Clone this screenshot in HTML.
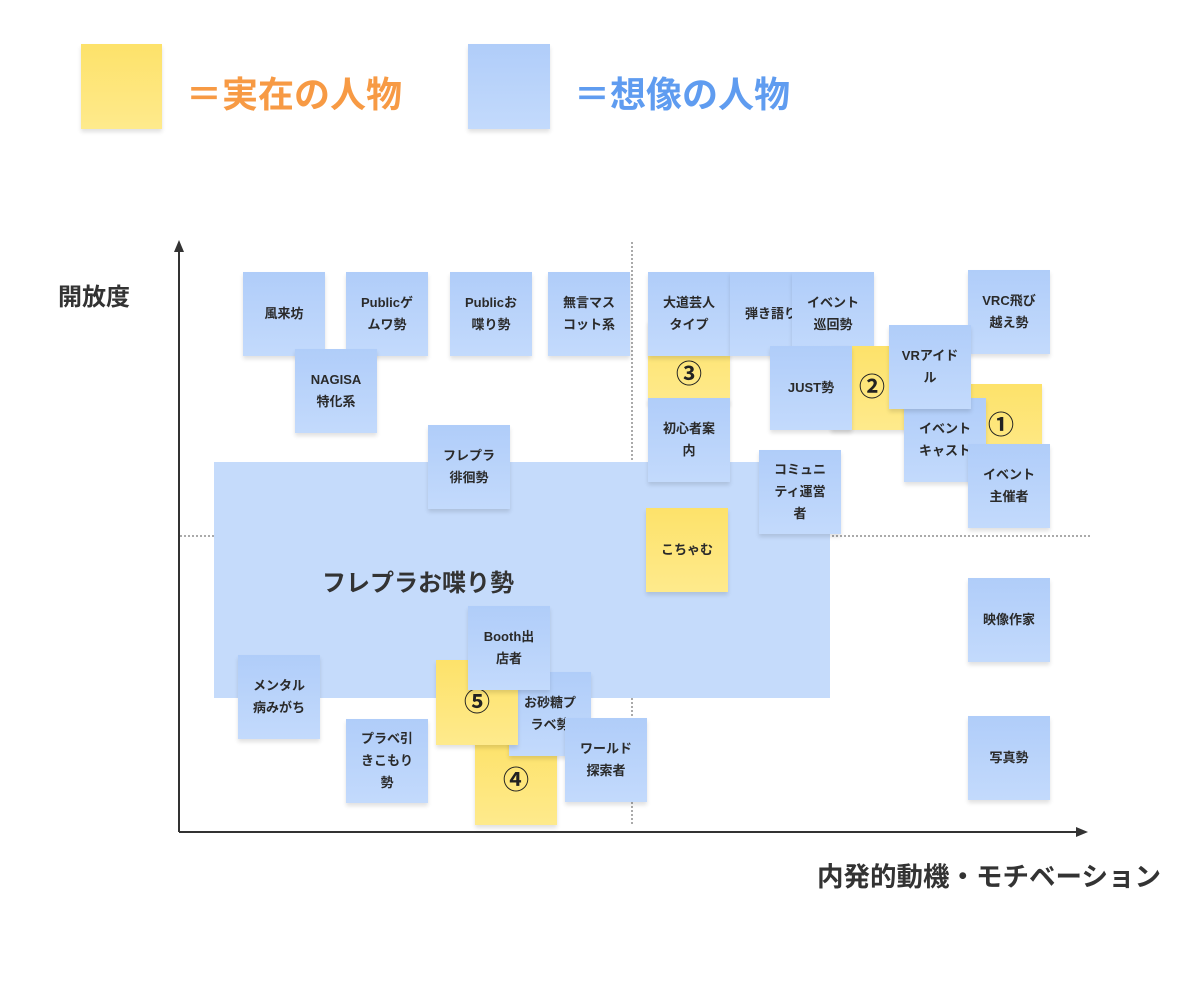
<!DOCTYPE html>
<html><head><meta charset="utf-8"><style>
body{margin:0;width:1200px;height:985px;background:#fff;position:relative;overflow:hidden;font-family:"Liberation Sans","Noto Sans CJK JP",sans-serif;}
.n{position:absolute;width:82px;height:84px;display:flex;align-items:center;justify-content:center;text-align:center;font-size:13px;font-weight:bold;color:#2a2a2a;line-height:22px;box-shadow:0 3px 4px rgba(0,0,0,0.12);box-sizing:border-box;padding:0 4px;}
.b{background:linear-gradient(#b0cdf9,#c3dafc);}
.y{background:linear-gradient(#fde26a,#feea8c);}
.c{position:absolute;font-size:26px;font-weight:bold;line-height:30px;width:30px;height:30px;text-align:center;color:#222;}
.t{position:absolute;font-weight:bold;white-space:nowrap;}
</style></head><body>
<div class="n y" style="left:81px;top:44px;width:81px;height:85px"></div>
<div class="t" style="left:186px;top:66px;font-size:36px;color:#f79a44">＝実在の人物</div>
<div class="n b" style="left:468px;top:44px;width:82px;height:85px"></div>
<div class="t" style="left:574px;top:66px;font-size:36px;color:#5f9cf0">＝想像の人物</div>

<div class="t" style="left:58px;top:277px;font-size:24px;color:#333">開放度</div>
<div class="t" style="left:817px;top:855px;font-size:26.5px;color:#333">内発的動機・モチベーション</div>

<svg style="position:absolute;left:0;top:0" width="1200" height="985">
<line x1="632" y1="242" x2="632" y2="826" stroke="#555" stroke-width="1" stroke-dasharray="2,2"/>
<line x1="180" y1="536" x2="1090" y2="536" stroke="#555" stroke-width="1" stroke-dasharray="2,2"/>
</svg>
<div style="position:absolute;left:214px;top:462px;width:616px;height:236px;background:#c5dbfb"></div>
<div class="t" style="left:322px;top:563px;font-size:24px;color:#333">フレプラお喋り勢</div>
<svg style="position:absolute;left:0;top:0" width="1200" height="985">
<line x1="179" y1="250" x2="179" y2="832" stroke="#333" stroke-width="2"/>
<polygon points="179,240 174,252 184,252" fill="#333"/>
<line x1="179" y1="832" x2="1078" y2="832" stroke="#333" stroke-width="2"/>
<polygon points="1088,832 1076,827 1076,837" fill="#333"/>
</svg>

<div class="n b" style="left:243px;top:272px">風来坊</div>
<div class="n b" style="left:346px;top:272px">Publicゲ<br>ムワ勢</div>
<div class="n b" style="left:450px;top:272px">Publicお<br>喋り勢</div>
<div class="n b" style="left:548px;top:272px">無言マス<br>コット系</div>
<div class="n b" style="left:295px;top:349px">NAGISA<br>特化系</div>
<div class="n b" style="left:428px;top:425px">フレプラ<br>徘徊勢</div>

<div class="n y" style="left:648px;top:320px"><span class="c" style="left:26px;top:39px">③</span></div>
<div class="n b" style="left:648px;top:272px">大道芸人<br>タイプ</div>
<div class="n b" style="left:730px;top:272px">弾き語り</div>
<div class="n b" style="left:792px;top:272px">イベント<br>巡回勢</div>
<div class="n b" style="left:648px;top:398px">初心者案<br>内</div>
<div class="n y" style="left:831px;top:346px"><span class="c" style="left:26px;top:26px">②</span></div>
<div class="n b" style="left:770px;top:346px">JUST勢</div>
<div class="n b" style="left:968px;top:270px">VRC飛び<br>越え勢</div>
<div class="n y" style="left:960px;top:384px"><span class="c" style="left:26px;top:26px">①</span></div>
<div class="n b" style="left:904px;top:398px">イベント<br>キャスト</div>
<div class="n b" style="left:889px;top:325px">VRアイド<br>ル</div>
<div class="n b" style="left:968px;top:444px">イベント<br>主催者</div>
<div class="n b" style="left:759px;top:450px">コミュニ<br>ティ運営<br>者</div>
<div class="n y" style="left:646px;top:508px">こちゃむ</div>
<div class="n b" style="left:968px;top:578px">映像作家</div>
<div class="n b" style="left:968px;top:716px">写真勢</div>

<div class="n b" style="left:238px;top:655px">メンタル<br>病みがち</div>
<div class="n b" style="left:346px;top:719px">プラベ引<br>きこもり<br>勢</div>
<div class="n y" style="left:475px;top:740px;height:85px"><span class="c" style="left:26px;top:25px">④</span></div>
<div class="n b" style="left:509px;top:672px">お砂糖プ<br>ラベ勢</div>
<div class="n y" style="left:436px;top:660px;height:85px"><span class="c" style="left:26px;top:27px">⑤</span></div>
<div class="n b" style="left:468px;top:606px">Booth出<br>店者</div>
<div class="n b" style="left:565px;top:718px">ワールド<br>探索者</div>
</body></html>
